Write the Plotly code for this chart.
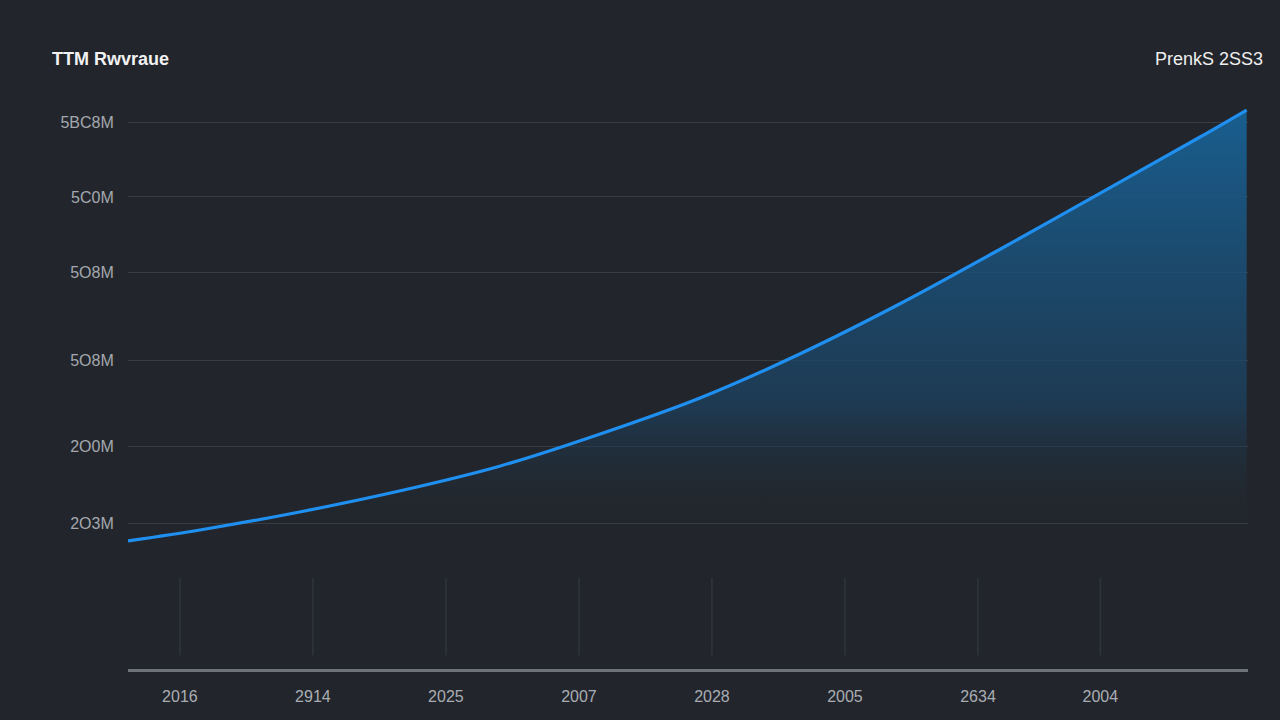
import plotly.graph_objects as go

# ---- data ----
x_tick_pos = [0, 1, 2, 3, 4, 5, 6, 6.92]
x_tick_labels = ["2016", "2914", "2025", "2007", "2028", "2005", "2634", "2004"]

y_tick_vals = [160, 244, 339, 435, 518, 600]
y_tick_labels = ["2O3M", "2O0M", "5O8M", "5O8M", "5C0M", "5BC8M"]

line_x = [-0.39, 0.15, 0.90, 1.65, 2.41, 3.16, 3.91, 4.66, 5.41, 6.17, 6.92, 7.67, 8.02]
line_y = [140.5, 152.5, 172.3, 195.3, 222.8, 257.9, 297.4, 345.7, 400.5, 460.9, 522.3, 583.8, 613.4]

title_left = "TTM Rwvraue"
title_right = "PrenkS 2SS3"

BG = "#22262c"

fig = go.Figure()
fig.add_trace(go.Scatter(
    x=line_x, y=line_y, mode="lines",
    line=dict(color="#1f8ff0", width=3.2, shape="spline", smoothing=0.8),
    fill="tozeroy",
    fillgradient=dict(
        type="vertical",
        start=150, stop=620,
        colorscale=[[0, "rgba(34,38,44,0)"], [0.3, "rgba(28,66,98,0.72)"], [1, "rgba(24,98,150,0.95)"]],
    ),
    hoverinfo="skip", showlegend=False,
))

# faint vertical guides in the lower band at each x tick
for t in x_tick_pos:
    fig.add_shape(type="line", xref="x", yref="y", x0=t, x1=t, y0=15, y1=100,
                  line=dict(color="rgba(120,128,140,0.16)", width=1.5), layer="below")

fig.update_layout(
    width=1280, height=720,
    paper_bgcolor=BG, plot_bgcolor=BG,
    margin=dict(l=128, r=32, t=104, b=51),
    font=dict(family="Liberation Sans, Arial, sans-serif", color="#a4a8ae", size=16),
    xaxis=dict(
        range=[-0.39, 8.03], tickvals=x_tick_pos, ticktext=x_tick_labels,
        showgrid=False, zeroline=False,
        showline=True, linecolor="#6d727a", linewidth=2.5,
        ticks="outside", ticklen=11, tickcolor="rgba(0,0,0,0)",
        tickfont=dict(size=16, color="#a9adb3"),
    ),
    yaxis=dict(
        range=[0, 620], tickvals=y_tick_vals, ticktext=y_tick_labels,
        showgrid=True, gridcolor="rgba(110,116,126,0.3)", gridwidth=1,
        zeroline=False, showline=False,
        ticks="outside", ticklen=10, tickcolor="rgba(0,0,0,0)",
        tickfont=dict(size=16, color="#a4a8ae"),
    ),
    annotations=[
        dict(text="<b>" + title_left + "</b>", xref="paper", yref="paper",
             x=-0.0696, y=1.0, xanchor="left", yanchor="bottom", yshift=33,
             showarrow=False, font=dict(size=18, color="#f2f2f2")),
        dict(text=title_right, xref="paper", yref="paper",
             x=1.0151, y=1.0, xanchor="right", yanchor="bottom", yshift=33,
             showarrow=False, font=dict(size=18, color="#eeeeee")),
    ],
)

fig.write_html(
    "out.html",
    config={"displayModeBar": False},
    post_script="document.body.style.margin='0';document.body.style.background='" + BG + "';",
)
